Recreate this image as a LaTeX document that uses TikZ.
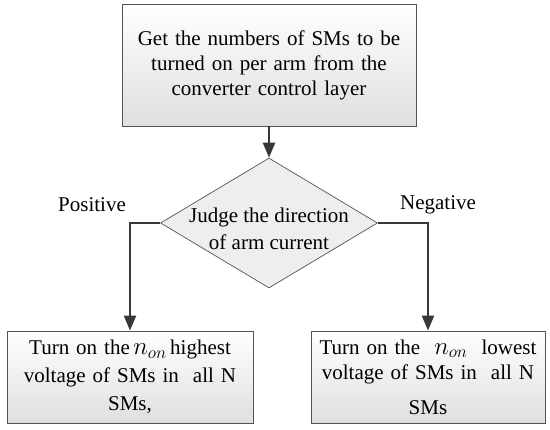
\documentclass[tikz,border=0pt]{standalone}
\usepackage{fontspec}
\setmainfont{Liberation Serif}
\usetikzlibrary{shapes.geometric,arrows.meta}
\tikzset{
  stepbox/.style={draw=gray!65!black,line width=0.9pt,top color=white,bottom color=gray!25,align=center,inner sep=2pt},
  judgebox/.style={diamond,draw=gray!65!black,line width=0.7pt,fill=gray!13,minimum width=217pt,minimum height=130pt,inner sep=0pt},
  flow/.style={-{Triangle[length=15pt,width=12pt]},line width=2.5pt,draw=black!78},
}
\newcommand{\non}{{\fontsize{25}{25}\selectfont$n_{on}$}}
\begin{document}
\begin{tikzpicture}[x=1pt,y=-1pt,font=\fontsize{21}{25}\selectfont]
    \useasboundingbox (0,0) rectangle (550,430);
    \path (269,65) node [stepbox,minimum width=294pt,minimum height=122pt,text width=290pt](get){Get the numbers of SMs to be\\turned on per arm from the\\converter control layer};
    \path (269,223) node [judgebox](judge){};
    \path (269,229) node [align=center](judgetext){Judge the direction\\[2pt]of arm current};
    \path (130,377) node [stepbox,minimum width=246pt,minimum height=92pt,text width=242pt](highest){Turn on the\,\non\,highest\\[3pt]voltage of SMs in\ \ all N\\[3pt]SMs,};
    \path (428,377) node [stepbox,minimum width=234pt,minimum height=92pt,text width=230pt](lowest){Turn on the \ \non\ \ lowest\\voltage of SMs in\ \ all N\\[10pt]SMs};
    \path (92,205) node (pos){Positive} (438,205) node (neg){Negative};
    \draw[flow] (get) -- (judge);
    \draw[flow] (judge.west) -| (highest);
    \draw[flow] (judge.east) -| (lowest);
  \end{tikzpicture}
\end{document}
